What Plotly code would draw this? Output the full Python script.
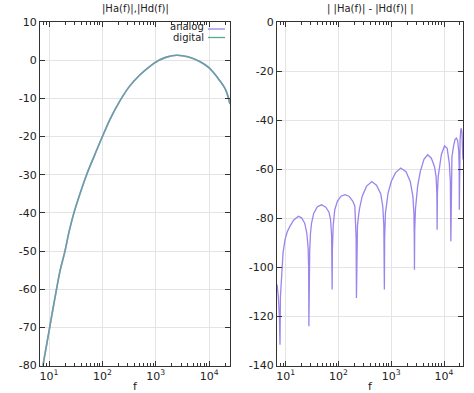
import plotly.graph_objects as go

# ---- data ----
# left panel: |Ha(f)| and |Hd(f)| in dB (curves coincide)
mag_f = [7.24, 7.73, 8.91, 10.3, 11.9, 13.7, 16.2, 19.7, 23.7, 29.0, 38.0, 50.0, 70.8,
         100, 141, 214, 316, 501, 776, 1122, 1585, 2455, 3981, 6761, 10000, 13804,
         19953, 24547]
analog_db = [-84.5, -80, -75, -70, -65, -60.3, -55, -50.3, -45, -40.2, -35, -30.2, -25,
             -20, -15.3, -10.6, -7.0, -3.9, -1.6, -0.1, 0.8, 1.3, 0.9, -0.4, -2, -4.3,
             -7.5, -11.5]
digital_db = [-84.5, -80, -75, -70, -65, -60.3, -55, -50.3, -45, -40.2, -35, -30.2, -25,
              -20, -15.3, -10.6, -7.0, -3.9, -1.6, -0.1, 0.8, 1.3, 0.9, -0.4, -2, -4.3,
              -7.5, -11.5]

# right panel: | |Ha(f)| - |Hd(f)| | in dB
diff_f = [6.86, 7.24, 7.59, 7.80,
          7.94, 8.41, 8.91, 9.70, 10.7, 12.0, 14.1, 17.4, 20.0, 22.9, 25.1, 26.6, 27.2, 27.5,
          27.9, 28.5, 29.5, 30.9, 33.9, 39.8, 47.9, 57.5, 66.1, 70.8, 74.1, 75.3, 75.9,
          76.7, 79.4, 85.1, 95.5, 112, 132, 158, 186, 204, 211, 216, 219,
          221, 229, 240, 251, 282, 339, 427, 525, 631, 692, 724, 736, 741,
          750, 776, 871, 1000, 1202, 1514, 1905, 2291, 2570, 2692, 2735, 2754,
          2786, 2884, 3162, 3548, 4169, 4898, 5754, 6607, 7079, 7328, 7413,
          7499, 7762, 8128, 8913, 10233, 11482, 12589, 13183, 13490,
          13646, 14125, 15136, 16218, 17179, 18197, 19055, 19409, 19498,
          19724, 20184, 20797, 21281, 21878, 22387, 22803]
diff_db = [-107, -112, -120, -131.5,
           -112, -101, -94, -88.7, -85.5, -83.3, -80.8, -79.2, -79.8, -82, -86, -92, -100, -124,
           -105, -93, -86, -82, -78, -75.3, -74.5, -75.5, -77.5, -80.5, -87, -95, -109,
           -93, -83, -76.5, -73, -71, -70.4, -71, -73, -75, -80, -88, -112.5,
           -93, -83, -79, -76, -71, -67, -65, -66.5, -70, -75.2, -83, -92, -109,
           -88, -78, -69.7, -65, -61.5, -59.5, -61, -65, -71, -78, -88, -101,
           -85, -76, -67, -61, -56, -54.1, -55.5, -59, -63, -70, -84.7,
           -70, -63, -60.2, -54, -50.5, -51.5, -57.5, -65, -89.4,
           -65, -55, -50.7, -47.8, -47.3, -48.5, -53, -60, -76.5,
           -58, -48, -44, -43.3, -45, -49, -56]

left_yticks = [10, 0, -10, -20, -30, -40, -50, -60, -70, -80]
left_ytext = ["10", "0", "-10", "-20", "-30", "-40", "-50", "-60", "-70", "-80"]
right_yticks = [0, -20, -40, -60, -80, -100, -120, -140]
right_ytext = ["0", "-20", "-40", "-60", "-80", "-100", "-120", "-140"]
xticks = [10, 100, 1000, 10000]
xtext = ["10<sup>1</sup>", "10<sup>2</sup>", "10<sup>3</sup>", "10<sup>4</sup>"]
series_names = ["analog", "digital"]

# ---- styling ----
W, H = 474, 393
PURPLE = "#9b84ec"
GREEN = "#5aa88a"
FONT = "DejaVu Sans"
L1, R1 = 40 / W, 230 / W
L2, R2 = 277 / W, 463 / W
TOP, BOT = 1 - 22 / H, 1 - 365.5 / H

fig = go.Figure()
fig.add_trace(go.Scatter(x=mag_f, y=analog_db, mode="lines", name=series_names[0],
                         line=dict(color=PURPLE, width=1.6, shape="spline", smoothing=1.0),
                         xaxis="x", yaxis="y", showlegend=False))
fig.add_trace(go.Scatter(x=mag_f, y=digital_db, mode="lines", name=series_names[1],
                         line=dict(color=GREEN, width=1.6, shape="spline", smoothing=1.0),
                         opacity=0.75, xaxis="x", yaxis="y", showlegend=False))
fig.add_trace(go.Scatter(x=diff_f, y=diff_db, mode="lines", name="diff",
                         line=dict(color=PURPLE, width=1.3), xaxis="x2", yaxis="y2",
                         showlegend=False))

common_x = dict(type="log", tickvals=xticks, ticktext=xtext, ticks="inside", ticklen=5,
                tickcolor="#333", showline=True, linecolor="#333", linewidth=1,
                mirror="allticks", showgrid=True, gridcolor="#e4e4e4", gridwidth=1,
                zeroline=False, automargin=False,
                tickfont=dict(family=FONT, size=11, color="#222"),
                minor=dict(ticks="inside", ticklen=2.5, tickcolor="#333", dtick="D1",
                           showgrid=False),
                title=dict(text="f", font=dict(family=FONT, size=11, color="#222"),
                           standoff=4))
common_y = dict(ticks="inside", ticklen=5, tickcolor="#333", showline=True,
                linecolor="#333", linewidth=1, mirror="allticks", showgrid=True,
                gridcolor="#e4e4e4", gridwidth=1, zeroline=False, automargin=False,
                tickfont=dict(family=FONT, size=11, color="#222"))

fig.update_layout(
    width=W, height=H, margin=dict(l=0, r=0, t=0, b=0, autoexpand=False),
    paper_bgcolor="white", plot_bgcolor="white",
    xaxis=dict(common_x, domain=[L1, R1], range=[0.831, 4.39], anchor="y"),
    yaxis=dict(common_y, domain=[BOT, TOP], range=[-80, 10], tickvals=left_yticks,
               ticktext=left_ytext, anchor="x"),
    xaxis2=dict(common_x, domain=[L2, R2], range=[0.835, 4.36], anchor="y2"),
    yaxis2=dict(common_y, domain=[BOT, TOP], range=[-140, 0], tickvals=right_yticks,
                ticktext=right_ytext, anchor="x2"),
    annotations=[
        dict(text="|Ha(f)|,|Hd(f)|", x=(L1 + R1) / 2, y=1 - 9 / H, xref="paper",
             yref="paper", showarrow=False, xanchor="center", yanchor="middle",
             font=dict(family=FONT, size=10, color="#222")),
        dict(text="| |Ha(f)| - |Hd(f)| |", x=(L2 + R2) / 2, y=1 - 9 / H, xref="paper",
             yref="paper", showarrow=False, xanchor="center", yanchor="middle",
             font=dict(family=FONT, size=10, color="#222")),
        dict(text=series_names[0], x=205 / W, y=1 - 26.5 / H, xref="paper", yref="paper",
             showarrow=False, xanchor="right", yanchor="middle", borderpad=0,
             font=dict(family=FONT, size=10, color="#222")),
        dict(text=series_names[1], x=205 / W, y=1 - 37 / H, xref="paper", yref="paper",
             showarrow=False, xanchor="right", yanchor="middle", borderpad=0,
             font=dict(family=FONT, size=10, color="#222")),
    ],
    shapes=[
        dict(type="line", xref="paper", yref="paper", x0=208 / W, x1=225 / W,
             y0=1 - 29 / H, y1=1 - 29 / H, line=dict(color=PURPLE, width=1.3)),
        dict(type="line", xref="paper", yref="paper", x0=208 / W, x1=225 / W,
             y0=1 - 37.5 / H, y1=1 - 37.5 / H, line=dict(color=GREEN, width=1.3)),
    ],
)

fig.write_html("out.html")
